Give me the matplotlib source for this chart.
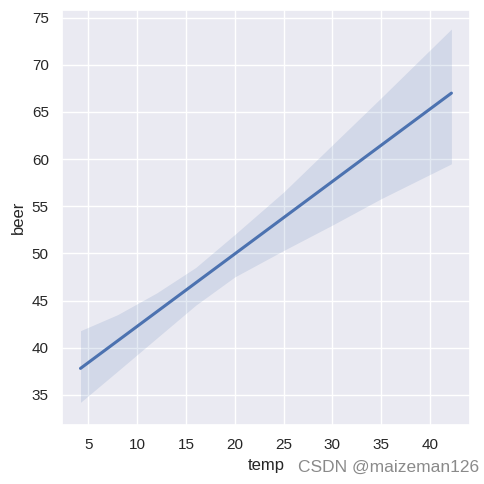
import matplotlib
matplotlib.use("Agg")
import matplotlib.pyplot as plt
import seaborn as sns

# Values
temp = [4.2, 8, 12, 16, 20, 25, 30, 35, 42.2]
fit_start = (4.2, 37.8)
fit_end = (42.2, 67.0)
ci_low = [34.2, 37.5, 41.0, 44.5, 47.5, 50.3, 53.0, 55.8, 59.5]
ci_high = [41.8, 43.5, 45.8, 48.5, 52.0, 56.5, 61.5, 66.5, 73.8]

sns.set_theme(style="darkgrid")
plt.rcParams['font.family'] = ['Liberation Sans', 'DejaVu Sans']

fig = plt.figure(figsize=(4.84, 4.84), dpi=100)
ax = fig.add_axes([0.128, 0.122, 0.843, 0.857])
color = sns.color_palette()[0]

ax.fill_between(temp, ci_low, ci_high, color=color, alpha=0.15, linewidth=0)
ax.plot([fit_start[0], fit_end[0]], [fit_start[1], fit_end[1]], color=color, linewidth=2.2)

ax.set_xlim(2.3, 44.1)
ax.set_ylim(31.8, 75.8)
ax.set_xticks([5, 10, 15, 20, 25, 30, 35, 40])
ax.set_yticks([35, 40, 45, 50, 55, 60, 65, 70, 75])
ax.set_xlabel("temp")
ax.set_ylabel("beer")

fig.text(0.99, 0.035, "CSDN @maizeman126", ha="right", va="center",
         color="#8a8a8a", fontsize=12.5)

fig.savefig("out.png", dpi=100)
